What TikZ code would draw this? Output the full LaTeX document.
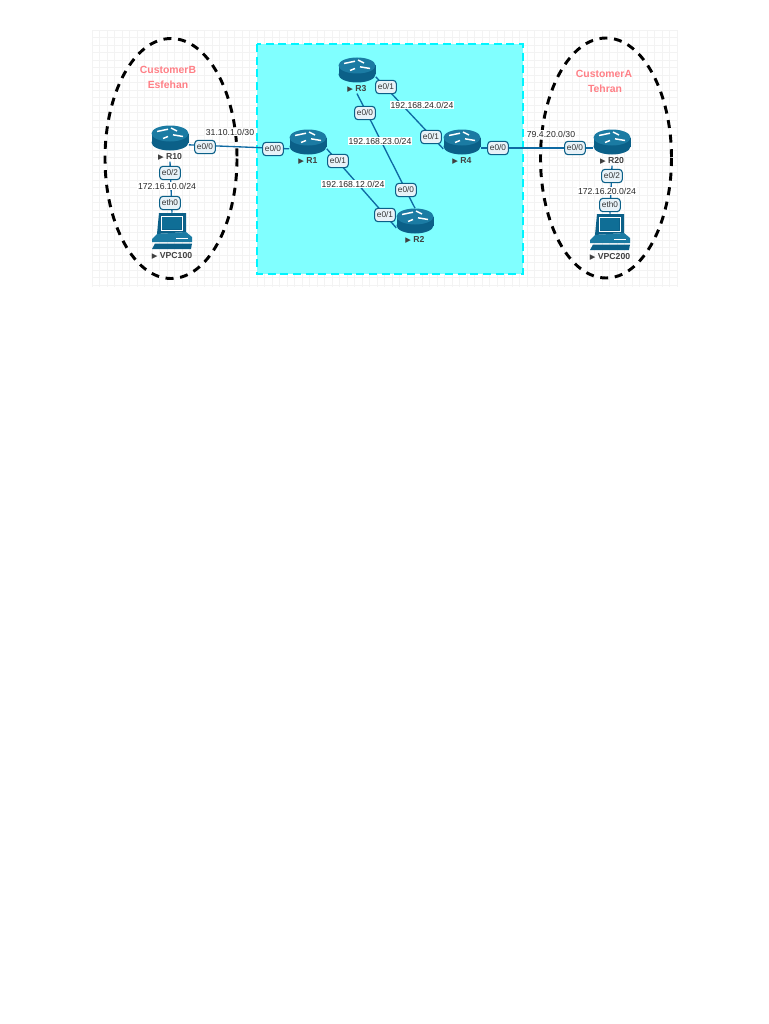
\documentclass[tikz,border=0pt]{standalone}
\usepackage{fontspec}
\setmainfont{Liberation Sans}
\newfontfamily\arrowfont{DejaVu Sans}
\usetikzlibrary{positioning}

\definecolor{linkblue}{HTML}{0F6AA3}
\definecolor{iconside}{HTML}{0B6088}
\definecolor{icontop}{HTML}{1B7BA3}
\definecolor{iconscreen}{HTML}{0F6E96}
\definecolor{boxfill}{HTML}{80FFFF}
\definecolor{boxedge}{HTML}{00F5FF}
\definecolor{gridline}{HTML}{F3F3F3}
\definecolor{customer}{HTML}{FF7F86}
\definecolor{portfill}{HTML}{E8F2F8}

\tikzset{
  routerbox/.style={rectangle, minimum width=27.75pt, minimum height=18.75pt, inner sep=0pt},
  pcbox/.style={rectangle, minimum width=30pt, minimum height=27pt, inner sep=0pt},
  devlabel/.style={font=\fontsize{6.5}{7}\selectfont\bfseries, text=black!75, inner sep=0.5pt, below=1.5pt of #1},
  port/.style={draw=iconside, fill=portfill, rounded corners=2.5pt, line width=0.8pt,
    font=\fontsize{6.2}{7}\selectfont, text=black!80, inner sep=0pt, minimum width=15.5pt, minimum height=10pt},
  subnet/.style={fill=white, font=\fontsize{6.5}{7}\selectfont, text=black!85, inner sep=0.6pt},
  site/.style={font=\fontsize{7.8}{9}\selectfont\bfseries, text=customer},
  link/.style={draw=linkblue, line width=1pt},
  cloud/.style={draw=black, line width=2.2pt, dash pattern=on 6pt off 5pt}
}

\newcommand{\drawrouter}[3]{%
  \node[routerbox] (#1) at (#2,#3) {};
  \node[devlabel=#1] (lb#1) {{\arrowfont\fontsize{5.5}{7}\selectfont▶} #1};
  \begin{scope}[shift={(#2,#3)}]
    \fill[iconside] (-18.5,-4.5) rectangle (18.5,4.5);
    \fill[iconside] (0,4.5) ellipse [x radius=18.5, y radius=8];
    \fill[icontop] (0,-4.5) ellipse [x radius=18.5, y radius=8];
    \draw[white, line width=1.1pt] (1,-10) -- (7,-7) (3,-3.2) -- (13,-1.5)
      (-13,-6.5) -- (-2,-8.8) (-7,0.5) -- (-2,-1.5);
  \end{scope}
}

\newcommand{\drawpc}[3]{%
  \node[pcbox] (#1) at (#2,#3) {};
  \node[devlabel=#1] (lb#1) {{\arrowfont\fontsize{5.5}{7}\selectfont▶} #1};
  \begin{scope}[shift={(#2,#3)}]
    \fill[iconside] (-13,-18) -- (14,-18) -- (14,1) -- (-15,3) -- cycle;
    \draw[white, line width=0.5pt] (-11,-15) rectangle (10,-1);
    \fill[iconscreen] (-10,-14) rectangle (9,-2);
    \fill[icontop] (-15,3) -- (14,1) -- (20,6) -- (20,11) -- (-20,11) -- (-20,8) -- cycle;
    \draw[white, line width=0.5pt] (4,7.5) -- (16,7.5);
    \fill[iconside] (-17,12.5) -- (20,12.5) -- (19,18) -- (-20,18) -- cycle;
  \end{scope}
}

\begin{document}
\begin{tikzpicture}[x=0.75pt,y=-0.75pt]
  \useasboundingbox (0,0) rectangle (768,1024);

  % Grid behind the topology
  \foreach \gx in {0,...,78} {
    \draw[gridline, line width=0.3pt] ({92+7.5*\gx},30) -- ({92+7.5*\gx},287);
  }
  \foreach \gy in {0,...,34} {
    \draw[gridline, line width=0.3pt] (92,{30+7.5*\gy}) -- (677,{30+7.5*\gy});
  }

  % Provider area and customer sites
  \draw[fill=boxfill, draw=boxedge, line width=2pt, dash pattern=on 6pt off 3.5pt] (257,44) rectangle (523,274);
  \draw[cloud] (171,158.5) ellipse [x radius=66, y radius=120];
  \draw[cloud] (606,158) ellipse [x radius=65.5, y radius=120];

  % Devices
  \drawrouter{R10}{170}{138}
  \drawrouter{R1}{308}{142}
  \drawrouter{R3}{357}{70}
  \drawrouter{R4}{462}{142}
  \drawrouter{R2}{415}{221}
  \drawrouter{R20}{612}{142}
  \drawpc{VPC100}{172}{231}
  \drawpc{VPC200}{610}{232}

  % Links
  \draw[link] (R10.-20) -- (R1.200);
  \draw[link] (R1.-20) -- (R2.200);
  \draw[link] (lbR3.south) -- (R2.north);
  \draw[link] (R3.-20) -- (R4.200);
  \draw[link, line width=1.6pt] (R4.-18) -- (R20.198);
  \draw[link] (lbR10.south) -- (VPC100.north);
  \draw[link] (lbR20.south) -- (VPC200.north);

  % Interface names
  \node[port] (p10a) at (205,147) {e0/0};
  \node[port] (p1a) at (273,149) {e0/0};
  \node[port] (p1b) at (338,161) {e0/1};
  \node[port] (p2a) at (385,215) {e0/1};
  \node[port] (p2b) at (406,190) {e0/0};
  \node[port] (p3a) at (365,113) {e0/0};
  \node[port] (p3b) at (386,87) {e0/1};
  \node[port] (p4a) at (431,137) {e0/1};
  \node[port] (p4b) at (498,148) {e0/0};
  \node[port] (p20a) at (575,148) {e0/0};
  \node[port] (p10b) at (170,173) {e0/2};
  \node[port] (pc1) at (170,203) {eth0};
  \node[port] (p20b) at (612,176) {e0/2};
  \node[port] (pc2) at (610,205) {eth0};

  % Subnets
  \node[subnet] (net1) at (230,132) {31.10.1.0/30};
  \node[subnet] (net2) at (167,186) {172.16.10.0/24};
  \node[subnet] (net3) at (422,105) {192.168.24.0/24};
  \node[subnet] (net4) at (380,141) {192.168.23.0/24};
  \node[subnet] (net5) at (353,184) {192.168.12.0/24};
  \node[subnet] (net6) at (551,134) {79.4.20.0/30};
  \node[subnet] (net7) at (607,191) {172.16.20.0/24};

  % Site names
  \node[site] (custB) at (168,70) {CustomerB};
  \node[site] (cityB) at (168,85) {Esfehan};
  \node[site] (custA) at (604,74) {CustomerA};
  \node[site] (cityA) at (605,89) {Tehran};
\end{tikzpicture}
\end{document}
